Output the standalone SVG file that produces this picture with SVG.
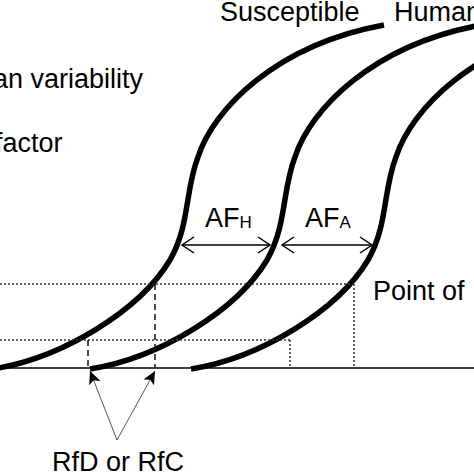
<svg xmlns="http://www.w3.org/2000/svg" width="474" height="474" viewBox="0 0 474 474">
<style>
text{font-family:"Liberation Sans",Arial,sans-serif;font-size:27px;fill:#000}
.sub{font-size:17px}
.curve{fill:none;stroke:#000;stroke-width:5.5;stroke-linecap:butt}
.dot{fill:none;stroke:#333;stroke-width:1.5;stroke-dasharray:2 2}
.dash{fill:none;stroke:#111;stroke-width:1.5;stroke-dasharray:6 4}
.dim{fill:none;stroke:#000;stroke-width:1.5}
.ptr{fill:none;stroke:#555;stroke-width:1}
</style>
<defs>
<marker id="open" markerUnits="userSpaceOnUse" markerWidth="16" markerHeight="20" refX="14" refY="10" orient="auto-start-reverse" viewBox="0 0 16 20">
<path d="M2,2 L14,10 L2,18" fill="none" stroke="#000" stroke-width="1.5"/>
</marker>
<marker id="solid" markerUnits="userSpaceOnUse" markerWidth="14" markerHeight="12" refX="13" refY="6" orient="auto" viewBox="0 0 14 12">
<path d="M0,0 L13,6 L0,12 L3,6 z" fill="#000"/>
</marker>
<path id="s" d="M-7,369 C63,358 140,310 170,260 C190,225 185,190 198,157 C213,110 275,45 384,25"/>
</defs>
<g id="axes">
<line x1="0" y1="368" x2="474" y2="368" stroke="#000" stroke-width="1.5"/>
</g>
<g id="curves">
<use id="curve-susceptible" href="#s" class="curve"/>
<g transform="translate(97,0)"><path id="curve-human" class="curve" d="M-7,369 C63,358 140,310 170,260 C190,225 185,190 198,157 C213,110 275,45 384,25 L400,24"/></g>
<use id="curve-animal" href="#s" class="curve" transform="translate(198,0)"/>
</g>
<g id="connectors">
<line class="dot" x1="0" y1="284" x2="354" y2="284"/>
<line class="dot" x1="0" y1="340" x2="290" y2="340"/>
<line class="dot" x1="290" y1="340" x2="290" y2="368"/>
<line class="dot" x1="354" y1="284" x2="354" y2="368"/>
<line class="dash" x1="88" y1="340" x2="88" y2="368"/>
<line class="dash" x1="155" y1="284" x2="155" y2="368"/>
<line class="dim" x1="182" y1="245" x2="270" y2="245" marker-start="url(#open)" marker-end="url(#open)"/>
<line class="dim" x1="282" y1="245" x2="372" y2="245" marker-start="url(#open)" marker-end="url(#open)"/>
<line class="ptr" x1="117" y1="440" x2="90" y2="371" marker-end="url(#solid)"/>
<line class="ptr" x1="117" y1="440" x2="155" y2="371" marker-end="url(#solid)"/>
</g>
<g id="labels">
<text x="220" y="21">Susceptible</text>
<text x="394" y="21">Human</text>
<text x="-7" y="88">an variability</text>
<text x="-5" y="152">factor</text>
<text x="205" y="227">AF<tspan class="sub" dy="1">H</tspan></text>
<text x="305" y="227">AF<tspan class="sub" dy="1">A</tspan></text>
<text x="373" y="300">Point of</text>
<text x="52" y="471">RfD or RfC</text>
</g>
</svg>
